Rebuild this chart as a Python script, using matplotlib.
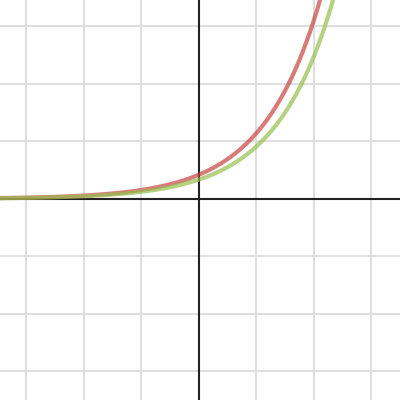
import numpy as np
import matplotlib
matplotlib.use("Agg")
import matplotlib.pyplot as plt

# curve parameters: y = a * e^x
red_coef = 0.42
green_coef = 0.335
grid_ticks = [-3, -2, -1, 1, 2, 3]

fig = plt.figure(figsize=(4, 4), dpi=100)
ax = fig.add_axes([0, 0, 1, 1])
ax.set_xlim(-3.46, 3.5)
ax.set_ylim(-3.5, 3.46)

for t in grid_ticks:
    ax.axvline(t, color='#dcdcdc', lw=1.3, zorder=1)
    ax.axhline(t, color='#dcdcdc', lw=1.3, zorder=1)
ax.axvline(0, color='#222222', lw=1.5, zorder=2)
ax.axhline(0, color='#222222', lw=1.5, zorder=2)

x = np.linspace(-3.5, 3.5, 800)
ax.plot(x, red_coef * np.exp(x), color='#c74440', alpha=0.7, lw=3, zorder=3, solid_capstyle='round')
ax.plot(x, green_coef * np.exp(x), color='#95bf4d', alpha=0.7, lw=3, zorder=4, solid_capstyle='round')

ax.set_xticks([])
ax.set_yticks([])
for s in ax.spines.values():
    s.set_visible(False)

fig.savefig('out.png', dpi=100)
